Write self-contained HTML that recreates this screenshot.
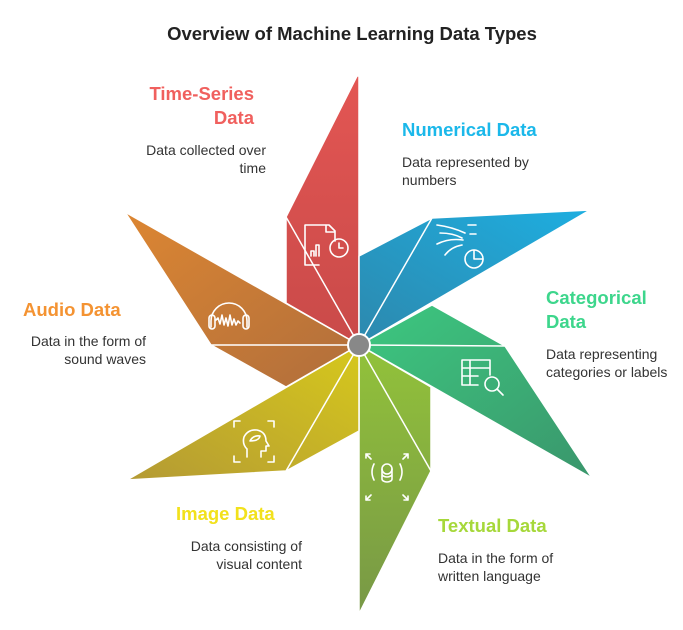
<!DOCTYPE html>
<html><head><meta charset="utf-8"><style>
body{margin:0;background:#fff;}
svg{display:block;font-family:"Liberation Sans",Arial,sans-serif;}
.h{font-weight:bold;font-size:18.5px;}
.d{font-size:14px;fill:#333;}
.ic{fill:none;stroke:#fff;stroke-width:1.6;stroke-linecap:round;stroke-linejoin:round;}
</style></head><body>
<svg width="683" height="630" viewBox="0 0 683 630">
<defs>
<linearGradient id="gr" x1="0" y1="0" x2="0" y2="1"><stop offset="0" stop-color="#e35653"/><stop offset="1" stop-color="#c94a49"/></linearGradient>
<linearGradient id="gb" x1="1" y1="0" x2="0" y2="1"><stop offset="0" stop-color="#1eaee0"/><stop offset="1" stop-color="#2d88ad"/></linearGradient>
<linearGradient id="gg" x1="0" y1="0" x2="1" y2="1"><stop offset="0" stop-color="#3dc880"/><stop offset="1" stop-color="#3a966c"/></linearGradient>
<linearGradient id="gl" x1="0" y1="0" x2="0" y2="1"><stop offset="0" stop-color="#92c23a"/><stop offset="1" stop-color="#789846"/></linearGradient>
<linearGradient id="gy" x1="1" y1="0" x2="0" y2="1"><stop offset="0" stop-color="#d6c81c"/><stop offset="1" stop-color="#b49a34"/></linearGradient>
<linearGradient id="go" x1="0" y1="0" x2="1" y2="1"><stop offset="0" stop-color="#dc8632"/><stop offset="1" stop-color="#b06e3c"/></linearGradient>
</defs>
<text x="352" y="40" text-anchor="middle" font-weight="bold" font-size="18.5" fill="#222">Overview of Machine Learning Data Types</text>

<g stroke="#fff" stroke-width="1.5" stroke-linejoin="round">
<polygon points="359,345 286,303 286,217 357,76 359,76" fill="url(#gr)"/>
<polygon points="359,345 359,256 432,218 590,210" fill="url(#gb)"/>
<polygon points="359,345 432,305 505,346 592,478" fill="url(#gg)"/>
<polygon points="359,345 431,387 431,471 359,614" fill="url(#gl)"/>
<polygon points="359,345 359,431 286,471 127,480" fill="url(#gy)"/>
<polygon points="359,345 286,387 211,345 125,212" fill="url(#go)"/>
<line x1="359" y1="345" x2="286" y2="217"/>
<line x1="359" y1="345" x2="432" y2="218"/>
<line x1="359" y1="345" x2="505" y2="346"/>
<line x1="359" y1="345" x2="431" y2="471"/>
<line x1="359" y1="345" x2="286" y2="471"/>
<line x1="359" y1="345" x2="211" y2="345"/>
</g>
<circle cx="359" cy="345" r="11" fill="#888" stroke="#fff" stroke-width="2"/>

<g class="ic">
<path d="M305,225 h24 l6,6 v10 M326,225 v7 h9 M305,225 v40 h14"/>
<path d="M311,256 v-5 h3 v5 M316,256 v-11 h3 v11"/>
<circle cx="339" cy="248" r="9"/><path d="M339,243 v5 h4"/>
<path d="M437,225 q15,2 28,8 M440,233 q13,0 22,5 M437,244 q12,-6 26,-4 M445,255 q6,-8 17,-10 M468,225 h8 M470,234 h6"/>
<circle cx="474" cy="259" r="9"/><path d="M474,250 v9 h9"/>
<path d="M462,360 h28 v15 M462,360 v25 h16 M462,368 h28 M462,376 h16 M470,360 v25"/>
<circle cx="492" cy="384" r="7"/><path d="M497,389 l6,6"/>
<circle cx="387" cy="469" r="5"/><path d="M382,469 v10 a5,3 0 0 0 10,0 v-10 M382,474 a5,3 0 0 0 10,0"/>
<path d="M374,464 q-4,8 0,16 M400,464 q4,8 0,16 M366,454 l5,5 M366,454 h4 M366,454 v4 M408,454 l-5,5 M408,454 h-4 M408,454 v4 M366,500 l5,-5 M366,500 h4 M366,500 v-4 M408,500 l-5,-5 M408,500 h-4 M408,500 v-4"/>
<path d="M234,427 v-6 h6 M274,427 v-6 h-6 M234,456 v6 h6 M274,456 v6 h-6"/>
<path d="M247,457 v-8 q-5,-5 -3,-12 q4,-8 13,-7 q9,2 9,11 l3,5 h-3 v5 h-5 v6"/>
<path d="M250,441 q3,-6 10,-5 q-1,5 -10,5z"/>
<path d="M211,327 v-6 a18,18 0 0 1 36,0 v6"/>
<rect x="209" y="315" width="6" height="14" rx="3"/><rect x="243" y="315" width="6" height="14" rx="3"/>
<path d="M216,320 l2,-2 l2,6 l2,-9 l2,10 l2,-7 l2,8 l2,-11 l2,10 l2,-6 l2,6 l2,-4 l2,2"/>
</g>

<text class="h" fill="#f0605e" text-anchor="end"><tspan x="254" y="100">Time-Series</tspan><tspan x="254" y="124">Data</tspan></text>
<text class="d" text-anchor="end"><tspan x="266" y="155">Data collected over</tspan><tspan x="266" y="173">time</tspan></text>

<text class="h" fill="#1bb8ea" x="402" y="136">Numerical Data</text>
<text class="d"><tspan x="402" y="167">Data represented by</tspan><tspan x="402" y="185">numbers</tspan></text>

<text class="h" fill="#3dd68c"><tspan x="546" y="304">Categorical</tspan><tspan x="546" y="328">Data</tspan></text>
<text class="d"><tspan x="546" y="359">Data representing</tspan><tspan x="546" y="377">categories or labels</tspan></text>

<text class="h" fill="#f49332" x="23" y="316">Audio Data</text>
<text class="d" text-anchor="end"><tspan x="146" y="346">Data in the form of</tspan><tspan x="146" y="364">sound waves</tspan></text>

<text class="h" fill="#f2e11c" x="176" y="520">Image Data</text>
<text class="d" text-anchor="end"><tspan x="302" y="551">Data consisting of</tspan><tspan x="302" y="569">visual content</tspan></text>

<text class="h" fill="#a6d83a" x="438" y="532">Textual Data</text>
<text class="d"><tspan x="438" y="563">Data in the form of</tspan><tspan x="438" y="581">written language</tspan></text>
</svg>
</body></html>
